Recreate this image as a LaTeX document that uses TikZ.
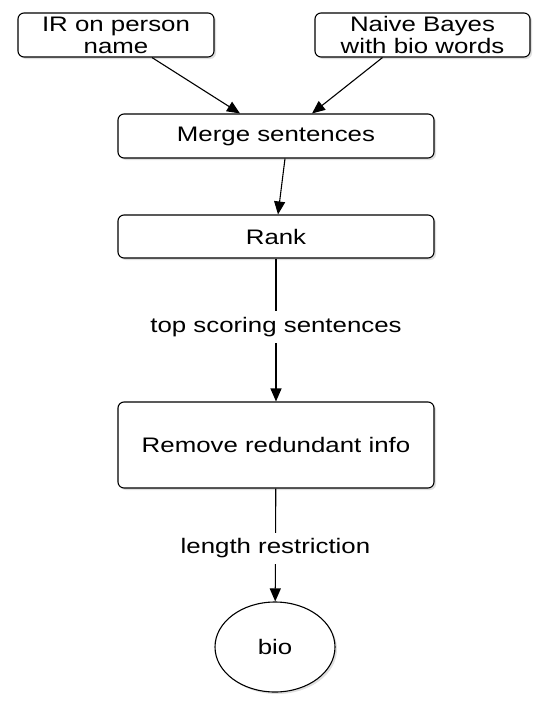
\documentclass[tikz,border=0pt]{standalone}
\usepackage{fontspec}
\setmainfont{Liberation Sans}[FakeStretch=1.23]
\usetikzlibrary{arrows.meta,shapes.geometric,shadows}
\begin{document}
\begin{tikzpicture}[
		x=1pt, y=-1pt,
		every node/.style={font=\fontsize{21}{22}\selectfont, align=center, inner sep=0pt},
		box/.style={draw, rounded corners=6pt, line width=1.1pt, fill=white,
			drop shadow={shadow xshift=2pt, shadow yshift=-2pt, opacity=0.25, fill=gray}},
		edgetext/.style={fill=white, inner xsep=4pt, inner ysep=6pt},
		flow/.style={line width=1.1pt, -{Triangle[length=13pt,width=11pt]}}
	]
		\useasboundingbox (0,0) rectangle (551,704);
		\node[box, minimum width=196pt, minimum height=44pt] (ir) at (116,35) {IR on person\\name};
		\node[box, minimum width=215pt, minimum height=44pt] (nb) at (422.5,35) {Naive Bayes\\with bio words};
		\node[box, minimum width=316pt, minimum height=44pt] (merge) at (276,136) {Merge sentences};
		\node[box, minimum width=316pt, minimum height=43pt] (rank) at (276,236.5) {Rank};
		\node[box, minimum width=316pt, minimum height=86pt] (remove) at (276,445) {Remove redundant info};
		\node[draw, ellipse, line width=1.1pt, fill=white, minimum width=120pt, minimum height=90pt,
			drop shadow={shadow xshift=2pt, shadow yshift=-2pt, opacity=0.25, fill=gray}] (bio) at (275,647) {bio};
		\draw[flow] ([xshift=36pt]ir.south) -- ([xshift=-36pt]merge.north);
		\draw[flow] ([xshift=-40pt]nb.south) -- ([xshift=36pt]merge.north);
		\draw[flow] ([xshift=9pt]merge.south) -- ([xshift=2pt]rank.north);
		\draw[flow] (rank) -- node[edgetext, pos=0.48] {top scoring sentences} (remove);
		\draw[flow] (remove) -- node[edgetext, pos=0.53] {length restriction} (bio);
	\end{tikzpicture}
\end{document}
